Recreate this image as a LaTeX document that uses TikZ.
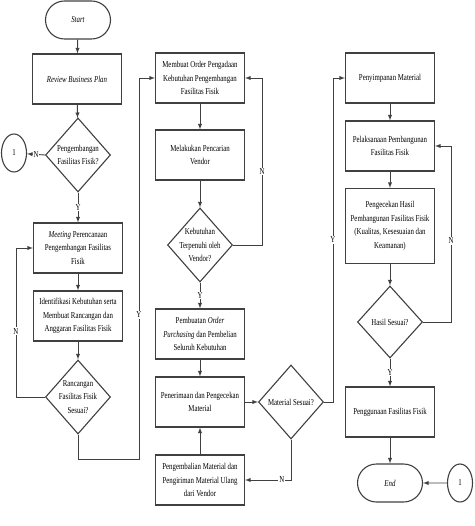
\documentclass[tikz,border=0pt]{standalone}
\usepackage{fontspec}
\setmainfont{Liberation Serif}[FakeStretch=0.76]
\usepackage{tikz}
\usetikzlibrary{arrows}
\usetikzlibrary{positioning}
\usetikzlibrary{shapes.geometric}
\usetikzlibrary{shapes.misc}
\definecolor{mline}{rgb}{0.25, 0.25, 0.25}
\tikzset{proc/.style = {draw = mline, line width = 1.1, minimum width = 89, minimum height = 50, inner sep = 0, align = center}}
\tikzset{term/.style = {draw = mline, line width = 1.1, rounded rectangle, minimum width = 65, minimum height = 38, inner sep = 0}}
\tikzset{dia/.style = {draw = mline, line width = 1.1, diamond, minimum width = 65, minimum height = 74, inner sep = 0}}
\tikzset{conn/.style = {draw = mline, line width = 1.1, ellipse, minimum width = 25, minimum height = 38, inner sep = 0}}
\tikzset{arr/.style = {draw = mline, line width = 0.9, -latex}}
\tikzset{lbl/.style = {fill = white, inner sep = 1}}

\begin{document}
\begin{tikzpicture}[x = 1pt, y = -1pt, every node/.style = {font = \fontsize{9}{13.5}\selectfont}]
      \useasboundingbox (0, 0) rectangle (474, 526);

      % first column
      \node [term] (start) at (78, 20) {\textit{Start}};
      \node [proc] (review) at (77, 79) {\textit{Review Business Plan}};
      \node [dia] (devq) at (78, 155) {};
      \node [align = center] at (devq) {Pengembangan\\Fasilitas Fisik?};
      \node [conn] (linkl) at (14, 153) {1};
      \node [proc] (meet) at (78, 248) {\textit{Meeting} Perencanaan\\Pengembangan Fasilitas\\Fisik};
      \node [proc] (ident) at (78, 316) {Identifikasi Kebutuhan serta\\Membuat Rancangan dan\\Anggaran Fasilitas Fisik};
      \node [dia] (planq) at (78, 397) {};
      \node [align = center] at (planq) {Rancangan\\Fasilitas Fisik\\Sesuai?};

      % second column
      \node [proc] (order) at (200, 78) {Membuat Order Pengadaan\\Kebutuhan Pengembangan\\Fasilitas Fisik};
      \node [proc] (search) at (200, 155) {Melakukan Pencarian\\Vendor};
      \node [dia] (vendq) at (200, 245) {};
      \node [align = center] at (vendq) {Kebutuhan\\Terpenuhi oleh\\Vendor?};
      \node [proc] (buy) at (200, 334) {Pembuatan \textit{Order}\\\textit{Purchasing} dan Pembelian\\Seluruh Kebutuhan};
      \node [proc] (recv) at (200, 402) {Penerimaan dan Pengecekan\\Material};
      \node [proc] (ret) at (200, 480) {Pengembalian Material dan\\Pengiriman Material Ulang\\dari Vendor};
      \node [dia] (matq) at (291, 402) {};
      \node at (matq) {Material Sesuai?};

      % third column
      \node [proc] (store) at (390, 78) {Penyimpanan Material};
      \node [proc] (build) at (390, 146) {Pelaksanaan Pembangunan\\Fasilitas Fisik};
      \node [proc, minimum height = 75] (check) at (390, 226) {Pengecekan Hasil\\Pembangunan Fasilitas Fisik\\(Kualitas, Kesesuaian dan\\Keamanan)};
      \node [dia, minimum height = 72] (resq) at (390, 322) {};
      \node at (resq) {Hasil Sesuai?};
      \node [proc] (use) at (390, 412) {Penggunaan Fasilitas Fisik};
      \node [term] (end) at (390, 483) {\textit{End}};
      \node [conn] (linkr) at (460, 483) {1};

      % connectors
      \draw [arr] (start) -- (review);
      \draw [arr] (review) -- (devq);
      \draw [arr] (devq.west) -- node [lbl] {N} (linkl);
      \draw [arr] (devq.south) -- node [lbl] {Y} (meet);
      \draw [arr] (meet) -- (ident);
      \draw [arr] (ident) -- (planq);
      \draw [arr] (planq.west) -- ++(-29, 0) |- node [lbl, pos = 0.22] {N} (meet.west);
      \draw [arr] (planq.south) -- ++(0, 25) -| node [lbl, pos = 0.69] {Y} ([xshift = -16]order.west) -- (order.west);

      \draw [arr] (order) -- (search);
      \draw [arr] (search) -- (vendq);
      \draw [arr] (vendq.east) -| node [lbl, pos = 0.72] {N} ([xshift = 17]order.east) -- (order.east);
      \draw [arr] (vendq.south) -- node [lbl] {Y} (buy);
      \draw [arr] (buy) -- (recv);
      \draw [arr] (recv) -- (matq);
      \draw [arr] (matq.south) |- node [lbl, pos = 0.6] {N} (ret.east);
      \draw [arr] (ret) -- (recv);
      \draw [arr] (matq.east) -| node [lbl, pos = 0.75] {Y} ([xshift = -12]store.west) -- (store.west);

      \draw [arr] (store) -- (build);
      \draw [arr] (build) -- (check);
      \draw [arr] (check) -- (resq);
      \draw [arr] (resq.east) -| node [lbl, pos = 0.73] {N} ([xshift = 16]build.east) -- (build.east);
      \draw [arr] (resq.south) -- node [lbl] {Y} (use);
      \draw [arr] (use) -- (end);
      \draw [arr] (linkr) -- (end);
    \end{tikzpicture}
\end{document}
